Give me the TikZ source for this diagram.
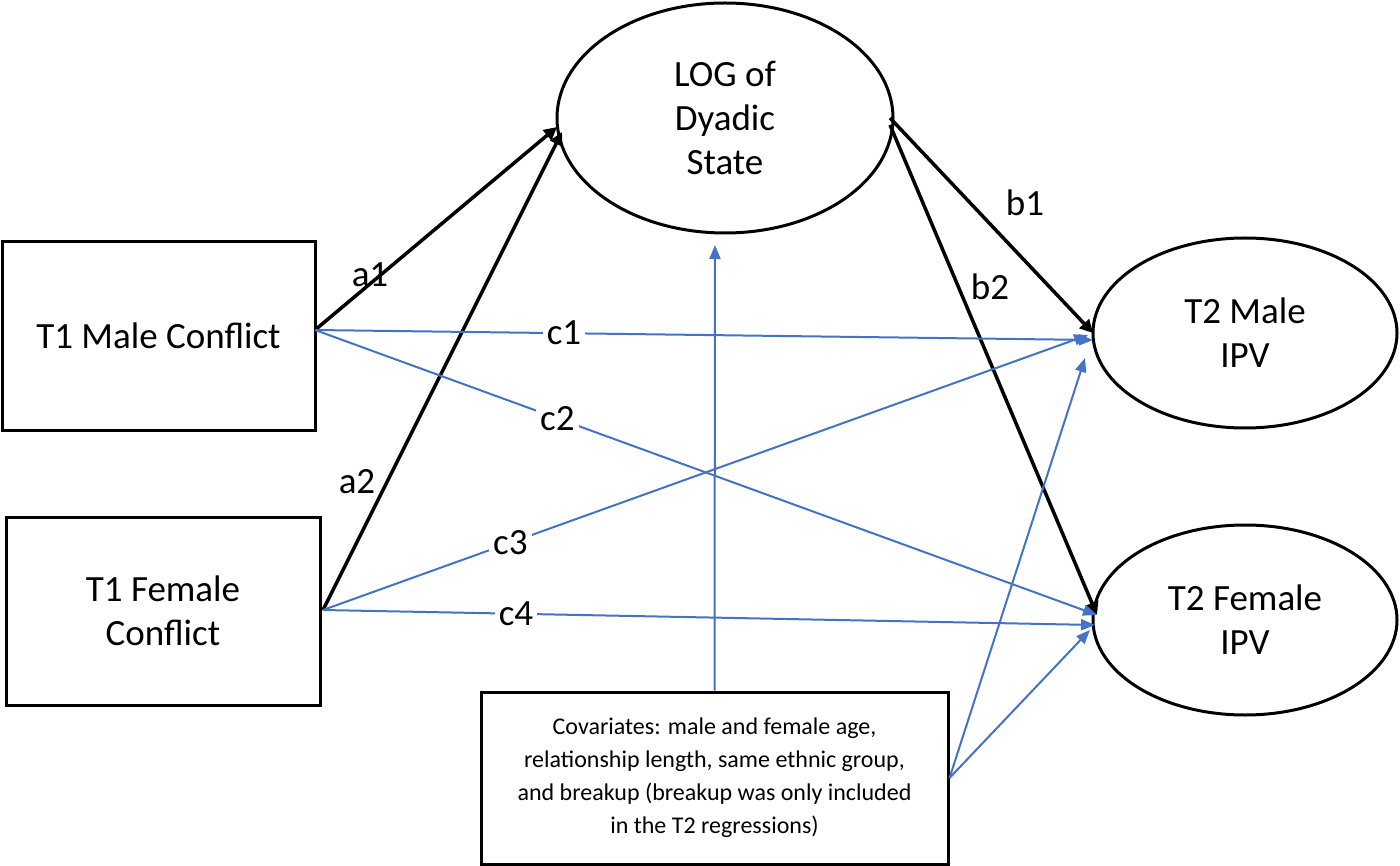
\documentclass[tikz,border=0pt]{standalone}
\usepackage{fontspec}
\setmainfont{Carlito}
\usetikzlibrary{arrows.meta}
\definecolor{bl}{HTML}{4472C4}
\begin{document}
\begin{tikzpicture}[x=1pt,y=-1pt,
 box/.style={draw,line width=3pt,inner sep=0pt},
 big/.style={font=\fontsize{37}{44}\selectfont,align=center},
 blk/.style={line width=3.5pt,-{Triangle[length=13pt,width=13pt]}},
 blu/.style={bl,line width=2pt,-{Triangle[length=14pt,width=11pt]}},
 lab/.style={font=\fontsize{37}{44}\selectfont,fill=white,text=black,inner sep=4pt}]
\useasboundingbox (0,0) rectangle (1400,866);
\node[box,minimum width=313pt,minimum height=188pt,big] (m) at (158.5,336) {T1 Male Conflict};
\node[box,minimum width=314pt,minimum height=188pt,big] (f) at (163,611) {T1 Female\\Conflict};
\draw[line width=3pt] (725,118) ellipse [x radius=168, y radius=115];
\node[big] (l) at (725,118) {LOG of\\Dyadic\\State};
\draw[line width=3pt] (1245,333) ellipse [x radius=152, y radius=95];
\node[big] (tm) at (1245,333) {T2 Male\\IPV};
\draw[line width=3pt] (1245,620) ellipse [x radius=152, y radius=95];
\node[big] (tf) at (1245,620) {T2 Female\\IPV};
\node[box,minimum width=467pt,minimum height=172pt,font=\fontsize{24}{33}\selectfont,align=center] (c) at (714.5,778) {Covariates: male and female age,\\relationship length, same ethnic group,\\and breakup (breakup was only included\\in the T2 regressions)};
\coordinate (ms) at (315,330); \coordinate (fs) at (323,610);
\coordinate (le) at (890,118);
\draw[blk] (ms) -- (557,127);
\draw[blk] (fs) -- (562,132);
\draw[blk] (le) -- (1093,333);
\draw[blk] (890,125) -- (1097,615);
\draw[blu] (ms) -- (1093,340) node[lab,pos=0.32] {c1};
\draw[blu] (ms) -- (1097,615) node[lab,pos=0.31] {c2};
\draw[blu] (fs) -- (1088,335) node[lab,pos=0.245] {c3};
\draw[blu] (fs) -- (1095,625) node[lab,pos=0.25] {c4};
\draw[blu] (c.north) -- (715,245);
\draw[blu] (c.east) -- (1085,358);
\draw[blu] (c.east) -- (1090,630);
\node[font=\fontsize{37}{44}\selectfont] at (370,275) {a1};
\node[font=\fontsize{37}{44}\selectfont] at (357,482) {a2};
\node[font=\fontsize{37}{44}\selectfont] at (1025,203) {b1};
\node[font=\fontsize{37}{44}\selectfont] at (990,287) {b2};
\end{tikzpicture}
\end{document}
